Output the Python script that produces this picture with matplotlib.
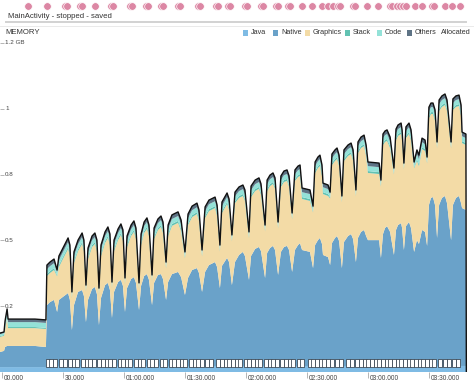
import matplotlib
matplotlib.use("Agg")
import matplotlib.pyplot as plt
import numpy as np
from matplotlib.transforms import blended_transform_factory
from matplotlib.path import Path
from matplotlib.patches import Rectangle
from matplotlib.lines import Line2D

plt.rcParams['font.family'] = ['Liberation Sans', 'DejaVu Sans']

# ---------------- data (seconds / GB) ----------------
time_s = [
    -1.0, 1.0, 1.5, 2.5, 3.0, 8.9, 16.2, 21.6,
    22.1, 23.6, 25.6, 27.1, 28.0, 30.5, 32.5, 33.4, 34.4,
    35.4, 37.4, 39.4, 40.3, 41.3,
    42.3, 44.3, 45.7, 46.7, 47.7,
    48.7, 50.7, 52.1, 53.1, 54.1,
    55.1, 57.1, 58.5, 59.5, 60.5,
    61.5, 63.5, 64.9, 65.9, 67.4,
    68.4, 69.9, 71.3, 72.3, 73.8,
    74.8, 76.7, 78.2, 79.2, 80.7,
    81.7, 83.6, 86.6, 88.1, 90.0,
    91.5, 93.5, 95.9, 96.9, 98.4,
    99.9, 101.8, 104.8, 105.8, 107.2,
    108.2, 110.7, 111.7, 113.1,
    114.6, 116.6, 118.5, 119.5, 121.5,
    122.5, 124.5, 126.4, 127.4, 129.4,
    130.4, 131.8, 133.3, 134.3, 135.8,
    137.2, 138.7, 140.2, 141.2, 142.7,
    144.1, 145.6, 146.6, 147.6, 151.5, 153.0,
    154.0, 155.4, 156.4, 157.4, 157.9, 160.4, 161.4,
    162.3, 163.8, 164.8, 165.8, 167.2,
    168.2, 170.2, 171.7, 172.7, 174.1,
    175.1, 176.6, 178.1, 179.1, 180.0, 185.5, 186.4,
    187.4, 188.4, 189.4, 190.9, 192.8,
    193.8, 194.8, 196.3, 196.8, 197.7,
    198.7, 200.2, 201.2, 202.7,
    204.1, 205.1, 206.6, 208.1, 209.1,
    210.0, 211.0, 212.0, 213.0, 214.0,
    215.0, 216.4, 217.9, 218.9, 220.9,
    221.8, 223.3, 224.8, 225.8, 226.3, 228.2,
    228.4,
]

# total memory (black outline)
total_gb = [
    0.142, 0.146, 0.186, 0.230, 0.193, 0.193, 0.193, 0.190,
    0.390, 0.401, 0.412, 0.372, 0.423, 0.460, 0.489, 0.463, 0.292,
    0.438, 0.481, 0.507, 0.481, 0.317,
    0.452, 0.496, 0.507, 0.481, 0.306,
    0.463, 0.511, 0.529, 0.503, 0.328,
    0.481, 0.522, 0.540, 0.518, 0.343,
    0.496, 0.536, 0.551, 0.525, 0.325,
    0.503, 0.547, 0.562, 0.536, 0.354,
    0.525, 0.558, 0.569, 0.547, 0.401,
    0.536, 0.573, 0.584, 0.554, 0.438,
    0.576, 0.605, 0.616, 0.591, 0.445,
    0.602, 0.627, 0.638, 0.609, 0.463,
    0.620, 0.653, 0.631, 0.500,
    0.656, 0.675, 0.682, 0.664, 0.511,
    0.678, 0.700, 0.708, 0.686, 0.536,
    0.700, 0.718, 0.726, 0.708, 0.547,
    0.715, 0.733, 0.737, 0.715, 0.580,
    0.737, 0.751, 0.755, 0.671, 0.664, 0.605,
    0.766, 0.784, 0.791, 0.755, 0.689, 0.682, 0.656,
    0.795, 0.810, 0.817, 0.791, 0.642,
    0.810, 0.828, 0.835, 0.810, 0.664,
    0.839, 0.857, 0.864, 0.828, 0.766, 0.762, 0.700,
    0.868, 0.879, 0.883, 0.857, 0.744,
    0.886, 0.901, 0.908, 0.883, 0.762,
    0.894, 0.908, 0.883, 0.766,
    0.810, 0.791, 0.853, 0.846, 0.784,
    0.966, 0.981, 0.981, 0.956, 0.839,
    0.992, 1.007, 1.014, 0.992, 0.839,
    0.996, 1.007, 1.010, 0.974, 0.875, 0.868,
    0.0,
]

# top edge of the blue (Java + Native) area
native_top_gb = [
    0.073, 0.077, 0.091, 0.095, 0.095, 0.095, 0.095, 0.091,
    0.244, 0.255, 0.263, 0.219, 0.263, 0.277, 0.288, 0.263, 0.153,
    0.244, 0.292, 0.299, 0.277, 0.182,
    0.263, 0.303, 0.310, 0.284, 0.171,
    0.270, 0.317, 0.325, 0.299, 0.197,
    0.292, 0.328, 0.336, 0.314, 0.219,
    0.306, 0.339, 0.346, 0.325, 0.226,
    0.314, 0.350, 0.357, 0.336, 0.244,
    0.325, 0.354, 0.357, 0.339, 0.263,
    0.328, 0.357, 0.365, 0.346, 0.281,
    0.343, 0.372, 0.379, 0.361, 0.292,
    0.365, 0.390, 0.401, 0.383, 0.306,
    0.387, 0.416, 0.401, 0.317,
    0.401, 0.427, 0.438, 0.423, 0.336,
    0.423, 0.449, 0.456, 0.441, 0.343,
    0.434, 0.452, 0.460, 0.445, 0.354,
    0.438, 0.456, 0.460, 0.445, 0.365,
    0.445, 0.463, 0.470, 0.445, 0.438, 0.379,
    0.463, 0.481, 0.489, 0.467, 0.427, 0.419, 0.390,
    0.470, 0.489, 0.496, 0.478, 0.379,
    0.474, 0.496, 0.503, 0.485, 0.401,
    0.489, 0.511, 0.518, 0.496, 0.481, 0.481, 0.416,
    0.503, 0.525, 0.532, 0.511, 0.427,
    0.518, 0.536, 0.543, 0.525, 0.445,
    0.532, 0.547, 0.525, 0.438,
    0.481, 0.467, 0.518, 0.511, 0.460,
    0.609, 0.635, 0.638, 0.609, 0.489,
    0.609, 0.635, 0.642, 0.616, 0.481,
    0.609, 0.635, 0.642, 0.616, 0.598, 0.591,
    0.0,
]

java_gb = [
    0.018, 0.018, 0.018, 0.018, 0.018, 0.018, 0.018, 0.018,
    0.022, 0.022, 0.022, 0.022, 0.022, 0.022, 0.022, 0.022, 0.022,
    0.022, 0.022, 0.022, 0.022, 0.022,
    0.022, 0.022, 0.022, 0.022, 0.022,
    0.022, 0.022, 0.022, 0.022, 0.022,
    0.022, 0.022, 0.022, 0.022, 0.022,
    0.022, 0.022, 0.022, 0.022, 0.022,
    0.022, 0.022, 0.022, 0.022, 0.022,
    0.022, 0.022, 0.022, 0.022, 0.022,
    0.022, 0.022, 0.022, 0.022, 0.022,
    0.022, 0.022, 0.022, 0.022, 0.022,
    0.022, 0.022, 0.022, 0.022, 0.022,
    0.022, 0.022, 0.022, 0.022,
    0.022, 0.022, 0.022, 0.022, 0.022,
    0.022, 0.022, 0.022, 0.022, 0.022,
    0.022, 0.022, 0.022, 0.022, 0.022,
    0.022, 0.022, 0.022, 0.022, 0.022,
    0.022, 0.022, 0.022, 0.022, 0.022, 0.022,
    0.022, 0.022, 0.022, 0.022, 0.022, 0.022, 0.022,
    0.022, 0.022, 0.022, 0.022, 0.022,
    0.022, 0.022, 0.022, 0.022, 0.022,
    0.022, 0.022, 0.022, 0.022, 0.022, 0.022, 0.022,
    0.022, 0.022, 0.022, 0.022, 0.022,
    0.022, 0.022, 0.022, 0.022, 0.022,
    0.022, 0.022, 0.022, 0.022,
    0.022, 0.022, 0.022, 0.022, 0.022,
    0.022, 0.022, 0.022, 0.022, 0.022,
    0.022, 0.022, 0.022, 0.022, 0.022,
    0.022, 0.022, 0.022, 0.022, 0.022, 0.022,
    0.0,
]

stack_gb = [
    0.003, 0.003, 0.004, 0.004, 0.004, 0.004, 0.004, 0.004,
    0.007, 0.007, 0.007, 0.004, 0.007, 0.007, 0.007, 0.007, 0.004,
    0.007, 0.007, 0.007, 0.007, 0.004,
    0.007, 0.007, 0.007, 0.007, 0.004,
    0.007, 0.007, 0.007, 0.007, 0.004,
    0.007, 0.007, 0.007, 0.007, 0.004,
    0.007, 0.007, 0.007, 0.007, 0.004,
    0.007, 0.007, 0.007, 0.007, 0.004,
    0.007, 0.007, 0.007, 0.007, 0.004,
    0.007, 0.007, 0.007, 0.007, 0.004,
    0.007, 0.007, 0.007, 0.007, 0.004,
    0.007, 0.007, 0.007, 0.007, 0.004,
    0.007, 0.007, 0.007, 0.004,
    0.007, 0.007, 0.007, 0.007, 0.004,
    0.007, 0.007, 0.007, 0.007, 0.004,
    0.007, 0.007, 0.007, 0.007, 0.004,
    0.007, 0.007, 0.007, 0.007, 0.004,
    0.007, 0.007, 0.007, 0.007, 0.007, 0.004,
    0.007, 0.007, 0.007, 0.007, 0.007, 0.007, 0.004,
    0.007, 0.007, 0.007, 0.007, 0.004,
    0.007, 0.007, 0.007, 0.007, 0.004,
    0.007, 0.007, 0.007, 0.007, 0.007, 0.007, 0.004,
    0.007, 0.007, 0.007, 0.007, 0.004,
    0.007, 0.007, 0.007, 0.007, 0.004,
    0.007, 0.007, 0.007, 0.004,
    0.007, 0.007, 0.007, 0.007, 0.004,
    0.007, 0.007, 0.007, 0.007, 0.004,
    0.007, 0.007, 0.007, 0.007, 0.004,
    0.007, 0.007, 0.007, 0.007, 0.007, 0.007,
    0.0,
]

code_gb = [
    0.007, 0.007, 0.018, 0.018, 0.018, 0.018, 0.018, 0.018,
    0.018, 0.018, 0.018, 0.012, 0.018, 0.018, 0.018, 0.018, 0.012,
    0.018, 0.018, 0.018, 0.018, 0.012,
    0.018, 0.018, 0.018, 0.018, 0.012,
    0.018, 0.018, 0.018, 0.018, 0.012,
    0.018, 0.018, 0.018, 0.018, 0.012,
    0.018, 0.018, 0.018, 0.018, 0.012,
    0.018, 0.018, 0.018, 0.018, 0.012,
    0.018, 0.018, 0.018, 0.018, 0.012,
    0.018, 0.018, 0.018, 0.018, 0.012,
    0.018, 0.018, 0.018, 0.018, 0.012,
    0.018, 0.018, 0.018, 0.018, 0.012,
    0.018, 0.018, 0.018, 0.012,
    0.018, 0.018, 0.018, 0.018, 0.012,
    0.018, 0.018, 0.018, 0.018, 0.012,
    0.018, 0.018, 0.018, 0.018, 0.012,
    0.018, 0.018, 0.018, 0.018, 0.012,
    0.018, 0.018, 0.018, 0.018, 0.018, 0.012,
    0.018, 0.018, 0.018, 0.018, 0.018, 0.018, 0.012,
    0.018, 0.018, 0.018, 0.018, 0.012,
    0.018, 0.018, 0.018, 0.018, 0.012,
    0.018, 0.018, 0.018, 0.018, 0.018, 0.018, 0.012,
    0.018, 0.018, 0.018, 0.018, 0.012,
    0.018, 0.018, 0.018, 0.018, 0.012,
    0.018, 0.018, 0.018, 0.012,
    0.018, 0.018, 0.018, 0.018, 0.012,
    0.018, 0.018, 0.018, 0.018, 0.012,
    0.018, 0.018, 0.018, 0.018, 0.012,
    0.018, 0.018, 0.018, 0.018, 0.018, 0.018,
    0.0,
]

others_gb = [
    0.004, 0.004, 0.011, 0.011, 0.011, 0.011, 0.011, 0.011,
    0.015, 0.015, 0.015, 0.007, 0.015, 0.015, 0.015, 0.015, 0.007,
    0.015, 0.015, 0.015, 0.015, 0.007,
    0.015, 0.015, 0.015, 0.015, 0.007,
    0.015, 0.015, 0.015, 0.015, 0.007,
    0.015, 0.015, 0.015, 0.015, 0.007,
    0.015, 0.015, 0.015, 0.015, 0.007,
    0.015, 0.015, 0.015, 0.015, 0.007,
    0.015, 0.015, 0.015, 0.015, 0.007,
    0.015, 0.015, 0.015, 0.015, 0.007,
    0.015, 0.015, 0.015, 0.015, 0.007,
    0.015, 0.015, 0.015, 0.015, 0.007,
    0.015, 0.015, 0.015, 0.007,
    0.015, 0.015, 0.015, 0.015, 0.007,
    0.015, 0.015, 0.015, 0.015, 0.007,
    0.015, 0.015, 0.015, 0.015, 0.007,
    0.015, 0.015, 0.015, 0.015, 0.007,
    0.015, 0.015, 0.015, 0.015, 0.015, 0.007,
    0.015, 0.015, 0.015, 0.015, 0.015, 0.015, 0.007,
    0.015, 0.015, 0.015, 0.015, 0.007,
    0.015, 0.015, 0.015, 0.015, 0.007,
    0.015, 0.015, 0.015, 0.015, 0.015, 0.015, 0.007,
    0.015, 0.015, 0.015, 0.015, 0.007,
    0.015, 0.015, 0.015, 0.015, 0.007,
    0.015, 0.015, 0.015, 0.007,
    0.015, 0.015, 0.015, 0.015, 0.007,
    0.015, 0.015, 0.015, 0.015, 0.007,
    0.015, 0.015, 0.015, 0.015, 0.007,
    0.015, 0.015, 0.015, 0.015, 0.015, 0.015,
    0.0,
]

# activity events (pink dots at the top) and user events (icons at the bottom)
activity_event_s = [12.8, 22.1, 31.0, 32.0, 38.4, 39.4, 45.7, 53.6, 54.6, 63.0, 63.9,
                    70.8, 71.8, 78.2, 79.2, 86.6, 87.6, 96.4, 97.4, 105.3, 106.3,
                    111.2, 112.2, 119.5, 120.5, 127.4, 128.4, 134.8, 135.8, 140.7, 141.7,
                    147.6, 152.5, 157.4, 160.4, 162.9, 165.3, 166.3, 172.7, 173.7,
                    179.6, 185.0, 190.9, 191.9, 194.3, 195.8, 197.3, 198.7, 203.1,
                    206.6, 211.5, 212.5, 217.9, 221.3, 225.3]
user_event_s = [22.5, 24.3, 26.1, 29.0, 30.8, 33.5, 35.3, 37.1, 39.8, 41.6, 43.4, 45.2,
                47.9, 49.7, 51.5, 53.3, 55.1, 57.8, 59.6, 61.4, 63.2, 65.9, 67.7, 69.5,
                72.2, 74.0, 75.8, 78.5, 80.3, 83.0, 84.8, 86.6, 88.4, 90.2, 92.9, 94.7,
                96.5, 98.3, 101.0, 102.8, 106.4, 108.2, 110.0, 111.8, 113.6, 115.4,
                117.2, 119.9, 121.7, 123.5, 125.3, 127.1, 129.8, 131.6, 133.4, 135.2,
                137.9, 139.7, 141.5, 143.3, 146.0, 147.8, 151.4, 153.2, 155.0, 156.8,
                158.6, 160.4, 162.2, 164.9, 166.7, 170.3, 172.1, 174.8, 176.6, 178.4,
                180.2, 182.0, 183.8, 185.6, 187.4, 189.2, 191.0, 192.8, 194.6, 196.4,
                198.2, 200.0, 201.8, 203.6, 205.4, 207.2, 209.0, 210.8, 212.6, 215.3,
                218.0, 219.8, 222.5, 224.3]

x_tick_s = [0, 30, 60, 90, 120, 150, 180, 210]
x_tick_labels = ["00.000", "30.000", "01:00.000", "01:30.000", "02:00.000",
                 "02:30.000", "03:00.000", "03:30.000"]
y_tick_gb = [0.24, 0.48, 0.72, 0.96, 1.2]
y_tick_labels = ["0.2", "0.5", "0.8", "1", "1.2 GB"]

legend_names = ["Java", "Native", "Graphics", "Stack", "Code", "Others"]
colors = ["#7fbbe4", "#6aa2c9", "#f3dba6", "#62c2b2", "#94e2d8", "#5e7385"]

# ---------------- figure ----------------
W, H = 474, 386
fig = plt.figure(figsize=(W / 100, H / 100), dpi=100)
fig.patch.set_facecolor("white")

def fx(px):
    return px / W

def fy(py):
    return 1 - py / H

ax_bottom_px, ax_top_px = 372, 38
ax = fig.add_axes([0, fy(ax_bottom_px), 1, (ax_bottom_px - ax_top_px) / H])
px_per_gb = (372 - 43) / 1.2
ax.set_ylim(0, (ax_bottom_px - ax_top_px) / px_per_gb)
px_per_s = 2.033
ax.set_xlim(-2 / px_per_s, (W - 2) / px_per_s)

t = np.array(time_s)
tot = np.array(total_gb)
ntop = np.array(native_top_gb)
java = np.array(java_gb)
stack = np.array(stack_gb)
code = np.array(code_gb)
others = np.array(others_gb)
native = np.clip(ntop - java, 0, None)
graphics = np.clip(tot - ntop - stack - code - others, 0, None)

ax.stackplot(t, java, native, graphics, stack, code, others, colors=colors,
             linewidth=0, antialiased=True)
ax.plot(t, tot, color="#111111", lw=1.0, solid_joinstyle="round")

# user-event icons
icon = Path([(-0.22, -0.5), (0.22, -0.5), (0.22, 0.5), (-0.22, 0.5), (-0.22, -0.5)],
            [Path.MOVETO, Path.LINETO, Path.LINETO, Path.LINETO, Path.CLOSEPOLY])
ax.plot(user_event_s, [9 / px_per_gb] * len(user_event_s), linestyle="none",
        marker=icon, markersize=5.4, markerfacecolor="white",
        markeredgecolor="#34404c", markeredgewidth=0.55)

for s in ax.spines.values():
    s.set_visible(False)

ax.set_xticks(x_tick_s)
ax.tick_params(axis="x", length=4, width=0.6, color="#aaaaaa", direction="out",
               labelbottom=False)
ax.set_yticks(y_tick_gb)
ax.tick_params(axis="y", length=3, width=0.6, color="#aaaaaa", direction="in",
               labelleft=False)

tr_x = blended_transform_factory(ax.transData, fig.transFigure)
for v, lab in zip(x_tick_s, x_tick_labels):
    fig.text(0, 0, lab, transform=tr_x, fontsize=4.8, color="#444444",
             ha="left", va="center").set_position((v + 1.0, fy(378)))

tr_y = blended_transform_factory(ax.transAxes, ax.transData)
for v, lab in zip(y_tick_gb, y_tick_labels):
    ax.text(fx(5), v, lab, transform=tr_y, fontsize=4.5, color="#444444",
            ha="left", va="center")

# ---------------- header ----------------
ax.scatter(activity_event_s, [fy(6)] * len(activity_event_s), transform=tr_x,
           s=30, color="#dc87a4", edgecolors="white", linewidths=0.5,
           clip_on=False, zorder=5)
fig.text(fx(8), fy(16.5), "MainActivity - stopped - saved", fontsize=5.6,
         color="#333333", ha="left", va="center")
fig.add_artist(Line2D([3 / px_per_s + 0.5, 228.0], [fy(21.5), fy(21.5)],
                      transform=tr_x, color="#d2d2d2", lw=1.4))
fig.add_artist(Line2D([0, 1], [fy(26), fy(26)], transform=fig.transFigure,
                      color="#e6e6e6", lw=0.6))
fig.text(fx(5), fy(33), "MEMORY", fontsize=5.6, color="#333333",
         ha="left", va="center")

sq_x = [243, 273, 305, 345, 377, 407]
for name, col, xs in zip(legend_names, colors, sq_x):
    fig.add_artist(Rectangle((fx(xs), fy(35.5)), 5 / W, 5 / H,
                             transform=fig.transFigure, facecolor=col,
                             edgecolor="none"))
    fig.text(fx(xs + 8), fy(33), name, fontsize=5.2, color="#333333",
             ha="left", va="center")
fig.text(fx(441), fy(33), "Allocated", fontsize=5.2, color="#333333",
         ha="left", va="center")

fig.savefig("out.png", dpi=100, facecolor="white")
